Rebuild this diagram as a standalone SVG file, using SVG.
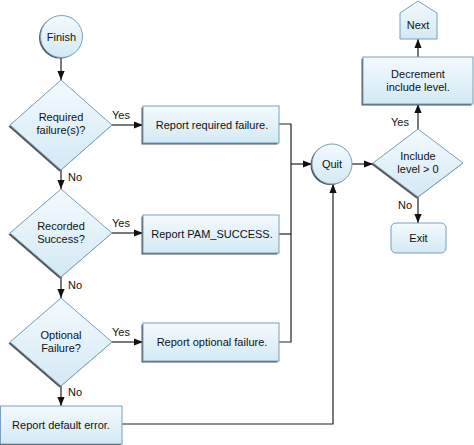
<svg xmlns="http://www.w3.org/2000/svg" width="474" height="445" viewBox="0 0 474 445">
<defs>
<linearGradient id="g" x1="0" y1="0" x2="0" y2="1">
<stop offset="0" stop-color="#f3fafe"/>
<stop offset="1" stop-color="#d3e9f5"/>
</linearGradient>
<marker id="ar" viewBox="0 0 10 10" refX="10" refY="5" markerWidth="9" markerHeight="9" markerUnits="userSpaceOnUse" orient="auto">
<path d="M0,1 L10,5 L0,9 z" fill="#111"/>
</marker>
</defs>
<style>
.s{fill:url(#g);stroke:#7aa0bb;stroke-width:1}
.sh{fill:#555;stroke:none}
.t{font-family:"Liberation Sans",Arial,sans-serif;font-size:11px;fill:#111;text-anchor:middle}
.c{fill:none;stroke:#222;stroke-width:1.2}
</style>
<rect width="474" height="445" fill="#fff"/>
<g id="connectors">
<line class="c" x1="61" y1="58" x2="61" y2="80" marker-end="url(#ar)"/>
<line class="c" x1="112" y1="125" x2="143" y2="125" marker-end="url(#ar)"/>
<line class="c" x1="61" y1="170" x2="61" y2="189" marker-end="url(#ar)"/>
<line class="c" x1="112" y1="233" x2="143" y2="233" marker-end="url(#ar)"/>
<line class="c" x1="61" y1="277" x2="61" y2="298" marker-end="url(#ar)"/>
<line class="c" x1="112" y1="342" x2="143" y2="342" marker-end="url(#ar)"/>
<line class="c" x1="61" y1="386" x2="61" y2="406" marker-end="url(#ar)"/>
<polyline class="c" points="279,124 291,124 291,342 279,342"/>
<line class="c" x1="279" y1="234" x2="291" y2="234"/>
<line class="c" x1="291" y1="164" x2="312" y2="164" marker-end="url(#ar)"/>
<polyline class="c" points="122,424 333,424 333,184" marker-end="url(#ar)"/>
<line class="c" x1="352" y1="164" x2="373" y2="164" marker-end="url(#ar)"/>
<line class="c" x1="418" y1="129" x2="418" y2="104" marker-end="url(#ar)"/>
<line class="c" x1="418" y1="57" x2="418" y2="39" marker-end="url(#ar)"/>
<line class="c" x1="418" y1="197" x2="418" y2="223" marker-end="url(#ar)"/>
<text class="t" x="121" y="119">Yes</text>
<text class="t" x="121" y="227">Yes</text>
<text class="t" x="121" y="336">Yes</text>
<text class="t" x="75" y="181">No</text>
<text class="t" x="75" y="289">No</text>
<text class="t" x="75" y="396">No</text>
<text class="t" x="400" y="126">Yes</text>
<text class="t" x="405" y="209">No</text>
</g>
<g id="finish">
<circle class="sh" cx="60" cy="37.5" r="21"/>
<circle class="s" cx="61.5" cy="36.5" r="21"/>
<text class="t" x="61.5" y="40.5">Finish</text>
</g>
<g id="d1">
<polygon class="sh" points="59.5,81.5 110.5,126.5 59.5,171.5 8.5,126.5"/>
<polygon class="s" points="61,80 112,125 61,170 10,125"/>
<text class="t" x="61" y="121">Required</text>
<text class="t" x="61" y="134">failure(s)?</text>
</g>
<g id="d2">
<polygon class="sh" points="59.5,190.5 110.5,234.5 59.5,278.5 8.5,234.5"/>
<polygon class="s" points="61,189 112,233 61,277 10,233"/>
<text class="t" x="61" y="230">Recorded</text>
<text class="t" x="61" y="243">Success?</text>
</g>
<g id="d3">
<polygon class="sh" points="59.5,299.5 110.5,343.5 59.5,387.5 8.5,343.5"/>
<polygon class="s" points="61,298 112,342 61,386 10,342"/>
<text class="t" x="61" y="339">Optional</text>
<text class="t" x="61" y="352">Failure?</text>
</g>
<g id="b1">
<rect class="sh" x="141.5" y="107.5" width="136" height="37"/>
<rect class="s" x="143" y="106" width="136" height="37"/>
<text class="t" x="212" y="128.5">Report required failure.</text>
</g>
<g id="b2">
<rect class="sh" x="141.5" y="216.5" width="136" height="38"/>
<rect class="s" x="143" y="215" width="136" height="38"/>
<text class="t" x="212" y="238">Report PAM_SUCCESS.</text>
</g>
<g id="b3">
<rect class="sh" x="141.5" y="324.5" width="136" height="38"/>
<rect class="s" x="143" y="323" width="136" height="38"/>
<text class="t" x="212" y="346">Report optional failure.</text>
</g>
<g id="b4">
<rect class="sh" x="-1" y="407.5" width="122" height="38"/>
<rect class="s" x="0.5" y="406" width="121.5" height="38"/>
<text class="t" x="61" y="428.5">Report default error.</text>
</g>
<g id="quit">
<circle class="sh" cx="330.5" cy="165" r="20"/>
<circle class="s" cx="332" cy="164" r="20"/>
<text class="t" x="332" y="168">Quit</text>
</g>
<g id="d4">
<polygon class="sh" points="416.5,130.5 461.5,164.5 416.5,198.5 371.5,164.5"/>
<polygon class="s" points="418,129 463,163 418,197 373,163"/>
<text class="t" x="418" y="160">Include</text>
<text class="t" x="418" y="173">level &gt; 0</text>
</g>
<g id="decrement">
<rect class="sh" x="361.5" y="58.5" width="110" height="47"/>
<rect class="s" x="363" y="57" width="110" height="47"/>
<text class="t" x="418" y="78">Decrement</text>
<text class="t" x="418" y="91">include level.</text>
</g>
<g id="next">
<polygon class="s" points="418,1 437,13 437,39 400,39 400,13"/>
<text class="t" x="418" y="29">Next</text>
</g>
<g id="exit">
<rect class="s" x="391" y="223" width="55" height="30" rx="5"/>
<text class="t" x="418.5" y="242">Exit</text>
</g>
</svg>
